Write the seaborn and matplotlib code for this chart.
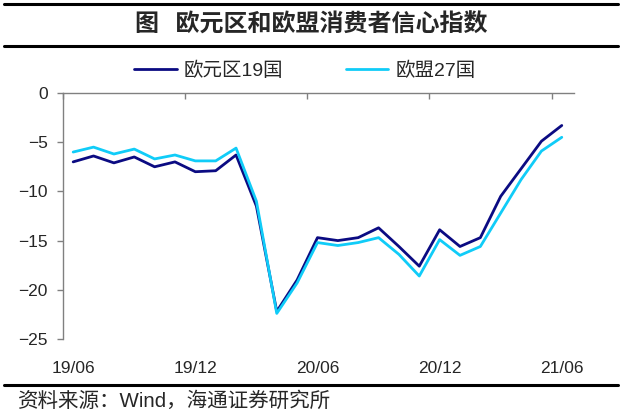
import matplotlib
matplotlib.use("Agg")
import matplotlib.pyplot as plt
import pandas as pd
import seaborn as sns
from matplotlib.lines import Line2D

# month index 0 = 2019/06 ... 24 = 2021/06
months = list(range(25))
tick_pos = [0, 6, 12, 18, 24]
tick_labels = ["19/06", "19/12", "20/06", "20/12", "21/06"]

ez19 = [-7.0, -6.4, -7.1, -6.5, -7.5, -7.0, -8.0, -7.9, -6.3, -11.5,
        -22.2, -19.0, -14.7, -15.0, -14.7, -13.7, -15.6, -17.6, -13.9,
        -15.6, -14.7, -10.5, -7.7, -4.9, -3.3]
eu27 = [-6.0, -5.5, -6.2, -5.7, -6.7, -6.3, -6.9, -6.9, -5.6, -11.0,
        -22.4, -19.3, -15.2, -15.5, -15.2, -14.7, -16.4, -18.6, -14.9,
        -16.5, -15.6, -12.2, -8.8, -5.9, -4.5]

series_names = ["欧元区19国", "欧盟27国"]
colors = {"欧元区19国": "#0B0B82", "欧盟27国": "#10CCF8"}

df = pd.DataFrame({
    "month": months * 2,
    "value": ez19 + eu27,
    "series": [series_names[0]] * 25 + [series_names[1]] * 25,
})

sns.set_style("white")
plt.rcParams["font.family"] = ["Liberation Sans", "Noto Sans CJK SC"]

fig = plt.figure(figsize=(6.22, 4.16), dpi=100)
W, H = 622, 416
ax = fig.add_axes([63 / W, 1 - 339 / H, (574 - 63) / W, (339 - 93) / H])

sns.lineplot(data=df, x="month", y="value", hue="series", palette=colors,
             linewidth=2.0, ax=ax, legend=False)

ax.set_xlim(-0.5, 24.6)
ax.set_ylim(-25, 0)
ax.set_yticks([0, -5, -10, -15, -20, -25])
ax.set_xlabel("")
ax.set_ylabel("")

# x axis line sits on top (y = 0), tick marks at month boundaries
ax.set_xticks([p - 0.5 for p in tick_pos])
ax.set_xticks(tick_pos, minor=True)
ax.set_xticklabels(tick_labels, minor=True)
ax.tick_params(axis="x", which="major", top=True, bottom=False, labelbottom=False,
               labeltop=False, direction="in", length=4, width=1, color="#808080")
ax.tick_params(axis="x", which="minor", bottom=True, length=0, pad=16, labelsize=12.5)
ax.tick_params(axis="y", left=True, direction="out", length=4, width=1,
               color="#808080", labelsize=12.5, pad=7)

for side in ["bottom", "right"]:
    ax.spines[side].set_visible(False)
for side in ["top", "left"]:
    ax.spines[side].set_color("#808080")
    ax.spines[side].set_linewidth(1)

# legend
handles = [Line2D([], [], color=colors[n], linewidth=2.0) for n in series_names]
fig.legend(handles, series_names, loc="center", bbox_to_anchor=(0.49, 1 - 71 / H),
           ncol=2, frameon=False, fontsize=14, handlelength=2.2,
           handletextpad=0.35, columnspacing=3.2)

# title block with rules
fig.add_artist(Line2D([4 / W, 618 / W], [1 - 4 / H, 1 - 4 / H], color="black", linewidth=2.2))
fig.add_artist(Line2D([4 / W, 618 / W], [1 - 46 / H, 1 - 46 / H], color="black", linewidth=2.2))
fig.text(0.5, 1 - 25 / H, "图   欧元区和欧盟消费者信心指数", ha="center", va="center",
         fontsize=17.3, fontweight="bold", family=["Noto Sans CJK SC"])

# source line
fig.add_artist(Line2D([4 / W, 618 / W], [1 - 385 / H, 1 - 385 / H], color="black", linewidth=2.2))
fig.text(18 / W, 1 - 401 / H, "资料来源：Wind，海通证券研究所", ha="left", va="center",
         fontsize=14.8)

fig.savefig("out.png", dpi=100)
